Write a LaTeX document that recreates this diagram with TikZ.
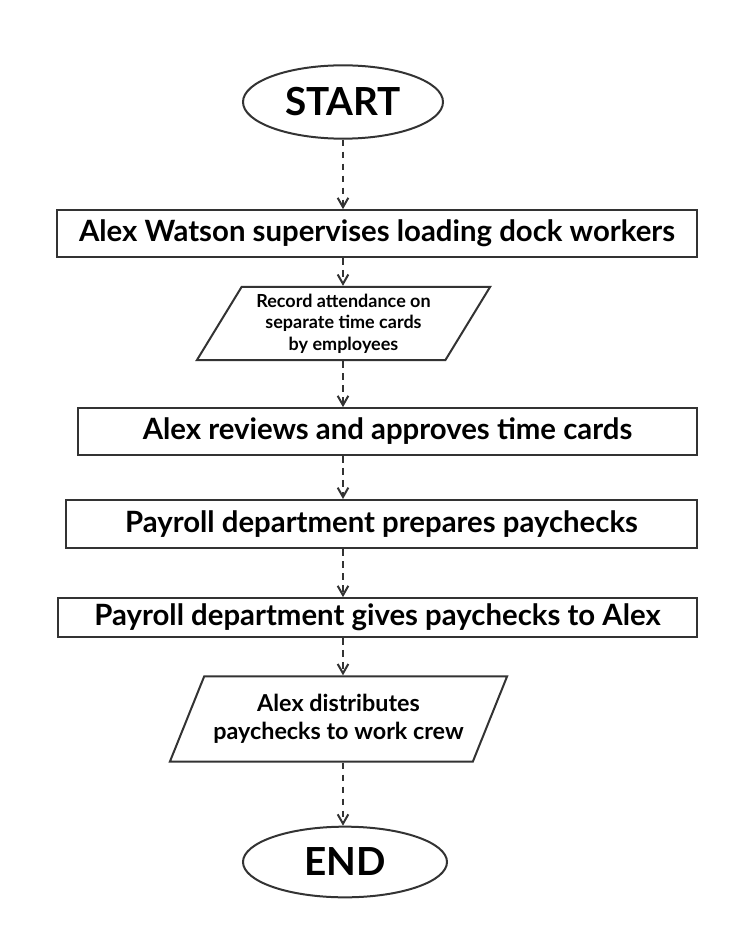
\documentclass[tikz,border=0pt]{standalone}
\usepackage{fontspec}
\setmainfont{Lato}
\usetikzlibrary{shapes.geometric,arrows.meta}
\begin{document}
\begin{tikzpicture}[x=0.75pt,y=-0.75pt,line width=1.5pt,
	term/.style={ellipse,draw=black!80,inner sep=0pt,font=\bfseries\fontsize{29}{32}\selectfont},
	box/.style={rectangle,draw=black!80,inner sep=0pt,font=\bfseries\fontsize{22}{26}\selectfont},
	io/.style={trapezium,trapezium left angle=57,trapezium right angle=123,trapezium stretches=true,draw=black!80,inner sep=0pt,align=center},
	flow/.style={dashed,dash pattern=on 5pt off 4pt,draw=black!80,-{Straight Barb[length=7pt,width=8pt]}}]
	\useasboundingbox (0,0) rectangle (752,952);
	\node[term,minimum width=150pt,minimum height=55pt] (start) at (343,102) {START};
	\node[box,minimum width=480pt,minimum height=35pt] (watson) at (377,233.5) {Alex Watson supervises loading dock workers};
	\node[io,minimum width=220pt,minimum height=55pt,font=\bfseries\fontsize{13.5}{16}\selectfont] (record) at (343.5,323.5) {Record attendance on\\separate time cards\\by employees};
	\node[box,minimum width=464pt,minimum height=35pt] (review) at (387.5,431.5) {Alex reviews and approves time cards};
	\node[box,minimum width=473pt,minimum height=36pt] (prepare) at (381.5,524) {Payroll department prepares paychecks};
	\node[box,minimum width=479pt,minimum height=29pt] (give) at (377.5,617.5) {Payroll department gives paychecks to Alex};
	\node[io,minimum width=253pt,minimum height=64pt,font=\bfseries\fontsize{17.5}{21}\selectfont] (distribute) at (338.5,719) {Alex distributes\\paychecks to work crew};
	\node[term,minimum width=153pt,minimum height=53pt] (end) at (345,862) {END};
	\draw[flow] (start.south) -- (start.south |- watson.north);
	\draw[flow] (start.south |- watson.south) -- (start.south |- record.north);
	\draw[flow] (start.south |- record.south) -- (start.south |- review.north);
	\draw[flow] (start.south |- review.south) -- (start.south |- prepare.north);
	\draw[flow] (start.south |- prepare.south) -- (start.south |- give.north);
	\draw[flow] (start.south |- give.south) -- (start.south |- distribute.north);
	\draw[flow] (start.south |- distribute.south) -- (start.south |- end.north);
\end{tikzpicture}
\end{document}
